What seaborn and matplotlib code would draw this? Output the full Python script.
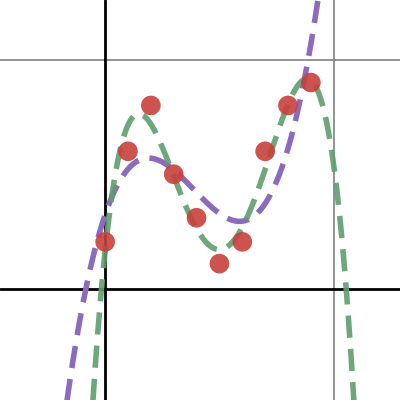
import numpy as np
import matplotlib
matplotlib.use("Agg")
import matplotlib.pyplot as plt
import seaborn as sns

x_pts = [0.0, 0.1, 0.2, 0.3, 0.4, 0.5, 0.6, 0.7, 0.8, 0.9]
y_pts = [0.205, 0.60, 0.80, 0.50, 0.31, 0.11, 0.205, 0.60, 0.80, 0.90]

sns.set_style("white")
fig = plt.figure(figsize=(4, 4), dpi=100)
ax = fig.add_axes([0, 0, 1, 1])
ax.set_xlim(-0.46, 1.29)
ax.set_ylim(-0.485, 1.26)
ax.axhline(1, color="gray", lw=1.2)
ax.axvline(1, color="gray", lw=1.2)
ax.axhline(0, color="black", lw=2)
ax.axvline(0, color="black", lw=2)

xs = np.linspace(-0.5, 1.3, 600)
p3 = np.polyfit(x_pts, y_pts, 3)
p6 = np.polyfit(x_pts, y_pts, 6)
pg = p6 if p6[0] < 0 else np.polyfit(x_pts, y_pts, 4)
sns.lineplot(x=xs, y=np.polyval(p3, xs), ax=ax, color="#8c6bbf", lw=4, linestyle=(0, (4, 2)))
sns.lineplot(x=xs, y=np.polyval(pg, xs), ax=ax, color="#5f9e6e", lw=4, linestyle=(0, (4, 2)), alpha=0.9)
sns.scatterplot(x=x_pts, y=y_pts, ax=ax, color="#c8403c", s=200, edgecolor="none", alpha=0.9, zorder=5)
ax.set_xticks([]); ax.set_yticks([])
for s in ax.spines.values():
    s.set_visible(False)
fig.savefig("out.png")
